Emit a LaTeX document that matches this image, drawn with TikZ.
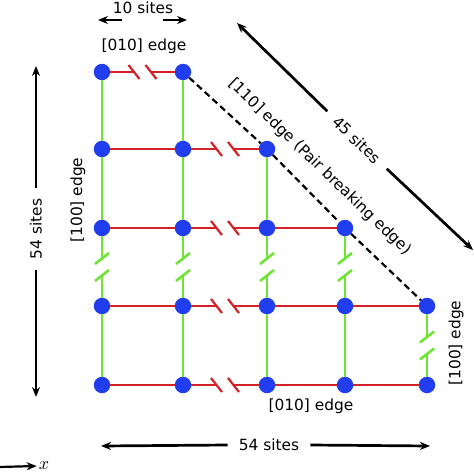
\documentclass[tikz,border=0pt]{standalone}
\usepackage{fontspec}
\setmainfont{DejaVu Sans}
\usetikzlibrary{arrows.meta}
\definecolor{siteB}{RGB}{32,62,238}
\definecolor{bondR}{RGB}{210,34,40}
\definecolor{bondG}{RGB}{110,228,52}

\begin{document}
\begin{tikzpicture}[x=1pt,y=-1pt,>={Stealth[length=10pt,width=8pt]},
  site/.style={circle,fill=siteB,minimum size=16.5pt,inner sep=0pt},
  hbond/.style={bondR,line width=2.2pt},
  vbond/.style={bondG,line width=2.6pt},
  dim/.style={->,line width=2.7pt},
  lbl/.style={font=\fontsize{15.4}{18}\selectfont,inner sep=0pt},
  dimlbl/.style={lbl,inner xsep=11pt},
  hcut/.pic={\fill[white] (-8.5,-3) rectangle (8.5,3);
    \draw[hbond] (-14,-7) -- (-3,7) (3,-7) -- (14,7);},
  vcut/.pic={\fill[white] (-3,-8.5) rectangle (3,8.5);
    \draw[vbond] (-7,-3) -- (7,-14) (-7,14) -- (7,3);}]
\useasboundingbox (0,0) rectangle (474,474);
\node[site] (s00) at (102,72) {}; \node[site] (s01) at (183,72) {};
\node[site] (s10) at (102,149) {}; \node[site] (s11) at (183,149) {}; \node[site] (s12) at (267,149) {};
\node[site] (s20) at (102,228) {}; \node[site] (s21) at (183,228) {}; \node[site] (s22) at (267,228) {};
\node[site] (s23) at (345,228) {};
\node[site] (s30) at (102,306) {}; \node[site] (s31) at (183,306) {}; \node[site] (s32) at (267,306) {};
\node[site] (s33) at (345,306) {}; \node[site] (s34) at (427,306) {};
\node[site] (s40) at (102,385) {}; \node[site] (s41) at (183,385) {}; \node[site] (s42) at (267,385) {};
\node[site] (s43) at (345,385) {}; \node[site] (s44) at (427,385) {};

\draw[dashed,line width=2.2pt,dash pattern=on 6.5pt off 4pt] (s01) -- (s12) -- (s23) -- (s34);

\draw[hbond] (s00) -- coordinate[midway] (c0) (s01);
\draw[hbond] (s10) -- (s11) -- coordinate[midway] (c1) (s12);
\draw[hbond] (s20) -- (s21) -- coordinate[midway] (c2) (s22) -- (s23);
\draw[hbond] (s30) -- (s31) -- coordinate[midway] (c3) (s32) -- (s33) -- (s34);
\draw[hbond] (s40) -- (s41) -- coordinate[midway] (c4) (s42) -- (s43) -- (s44);
\draw[vbond] (s00) -- (s10) -- (s20) -- coordinate[midway] (d0) (s30) -- (s40);
\draw[vbond] (s01) -- (s11) -- (s21) -- coordinate[midway] (d1) (s31) -- (s41);
\draw[vbond] (s12) -- (s22) -- coordinate[midway] (d2) (s32) -- (s42);
\draw[vbond] (s23) -- coordinate[midway] (d3) (s33) -- (s43);
\draw[vbond] (s34) -- coordinate[midway] (d4) (s44);
\foreach \c in {c0,c1,c2,c3,c4} \pic at (\c) {hcut};
\foreach \d in {d0,d1,d2,d3,d4} \pic at (\d) {vcut};

\node[lbl] (top10) at (143,8) {10 sites};
\coordinate (t10l) at (122,20); \coordinate (t10lE) at (98,20);
\coordinate (t10r) at (163,20); \coordinate (t10rE) at (187,20);
\draw[dim] (t10l) -- (t10lE); \draw[dim] (t10r) -- (t10rE);
\node[lbl] (e010t) at (144,46) {[010] edge};
\node[lbl] (e010b) at (311,406) {[010] edge};
\node[lbl,rotate=90] (e100l) at (78,200) {[100] edge};
\node[lbl,rotate=90] (e100r) at (456,343) {[100] edge};
\node[lbl,rotate=-44] (e110) at (320,167) {[110] edge (Pair breaking edge)};

\node[dimlbl,rotate=-44] (n45) at (357,140) {45 sites};
\coordinate (n45W) at (237,23); \coordinate (n45E) at (473,250);
\draw[dim] (n45.west) -- (n45W); \draw[dim] (n45.east) -- (n45E);
\node[dimlbl,rotate=90] (n54l) at (36,229) {54 sites};
\coordinate (n54lT) at (36,66); \coordinate (n54lB) at (36,397);
\draw[dim] (n54l.east) -- (n54lT); \draw[dim] (n54l.west) -- (n54lB);
\node[dimlbl] (n54b) at (269,445) {54 sites};
\coordinate (n54bL) at (101,446); \coordinate (n54bR) at (430,446);
\draw[dim] (n54b.west) -- (n54bL); \draw[dim] (n54b.east) -- (n54bR);

\node[inner sep=2pt] (xlbl) at (44,466) {\scalebox{1.8}{$x$}};
\coordinate (xo) at (-1,467);
\draw[->,line width=2.2pt] (xo) -- (xlbl.west);
\end{tikzpicture}
\end{document}
